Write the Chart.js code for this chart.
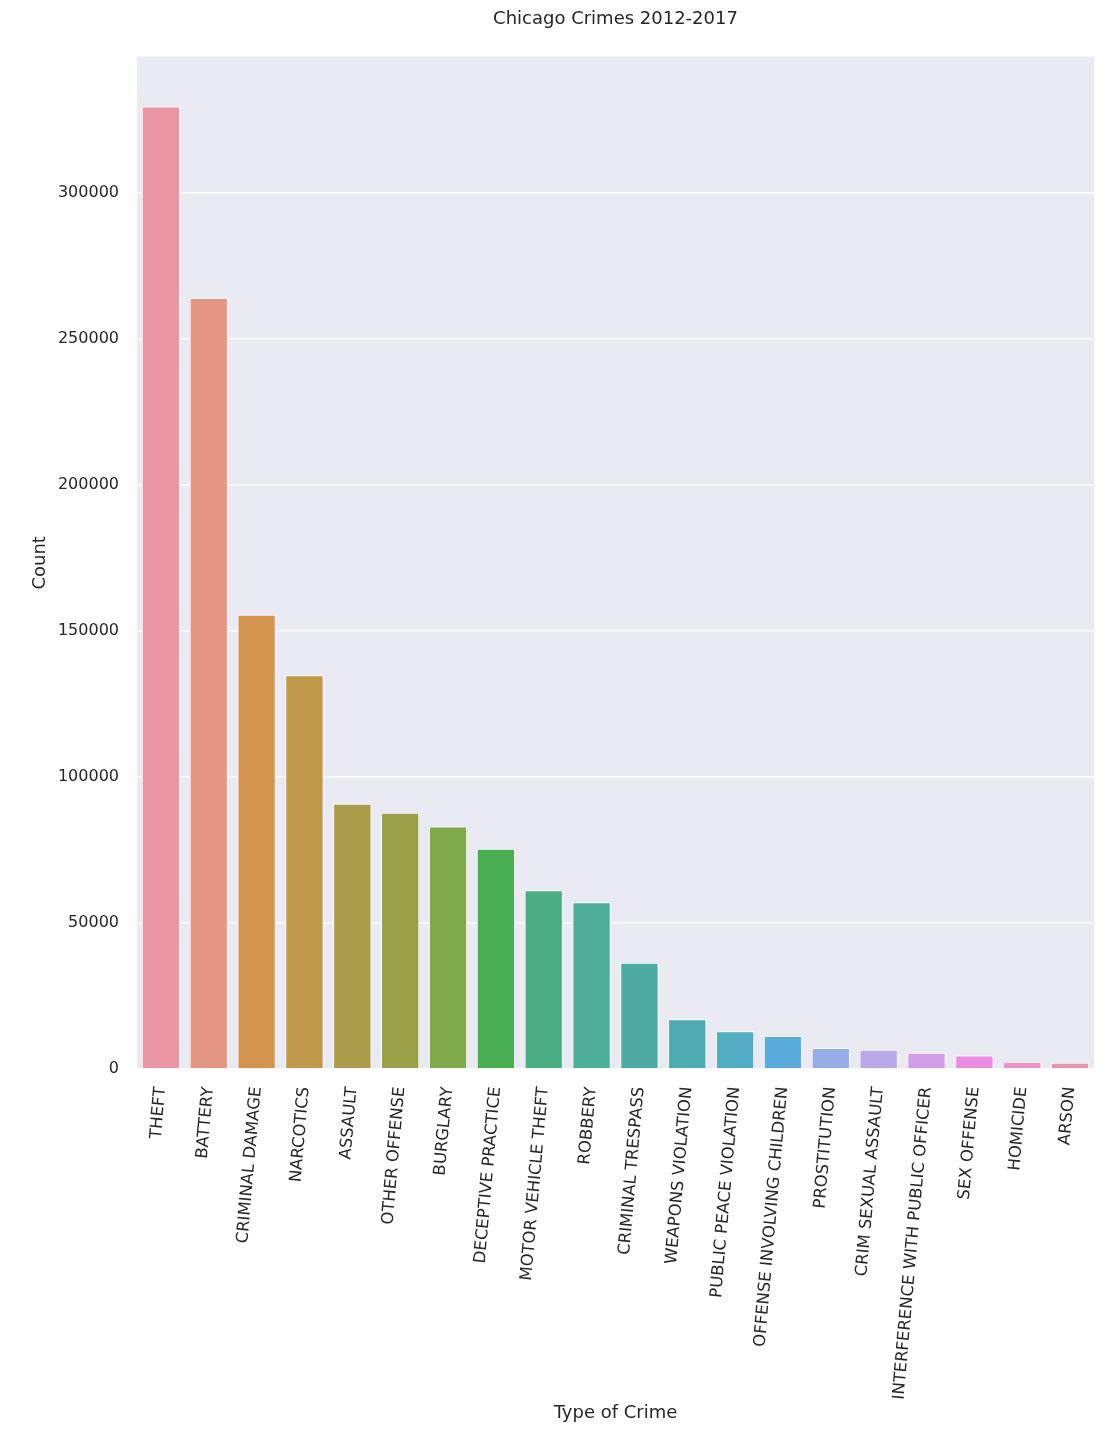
<!DOCTYPE html>
<html>
<head>
<meta charset="utf-8">
<script src="https://cdn.jsdelivr.net/npm/chart.js@4.4.1/dist/chart.umd.min.js"></script>
<style>
  html, body { margin: 0; padding: 0; background: #ffffff; }
  #wrap { width: 1116px; height: 1448px; position: relative; }
</style>
</head>
<body>
<div id="wrap"><canvas id="c" width="1116" height="1448"></canvas></div>
<script>
const categories = [
  "THEFT", "BATTERY", "CRIMINAL DAMAGE", "NARCOTICS", "ASSAULT",
  "OTHER OFFENSE", "BURGLARY", "DECEPTIVE PRACTICE", "MOTOR VEHICLE THEFT", "ROBBERY",
  "CRIMINAL TRESPASS", "WEAPONS VIOLATION", "PUBLIC PEACE VIOLATION", "OFFENSE INVOLVING CHILDREN", "PROSTITUTION",
  "CRIM SEXUAL ASSAULT", "INTERFERENCE WITH PUBLIC OFFICER", "SEX OFFENSE", "HOMICIDE", "ARSON"
];
const counts = [
  329400, 263900, 155500, 134800, 90800,
  87700, 83000, 75400, 61200, 57100,
  36400, 17000, 12900, 11300, 7200,
  6600, 5600, 4600, 2500, 2100
];
const barColors = [
  "#ea96a2", "#e59784", "#d6954f", "#bf9a4b", "#aa9c48",
  "#9aa147", "#80a94a", "#49af52", "#4bae84", "#4daf97",
  "#4eaba4", "#4eabb2", "#52acc4", "#59acdc", "#97aee8",
  "#b8a7e9", "#d09de6", "#e78be3", "#ea94c9", "#e995b1"
];
const yTicks = [0, 50000, 100000, 150000, 200000, 250000, 300000];
const yMax = 346500;

const FONT = "'DejaVu Sans', 'Liberation Sans', sans-serif";
const TEXT = "#262626";

const bgPlugin = {
  id: 'plotBg',
  beforeDraw(chart) {
    const {ctx, chartArea: a} = chart;
    ctx.save();
    ctx.fillStyle = '#eaeaf2';
    ctx.fillRect(a.left, a.top, a.right - a.left, a.bottom - a.top);
    ctx.restore();
  }
};

new Chart(document.getElementById('c'), {
  type: 'bar',
  data: {
    labels: categories,
    datasets: [{
      label: 'Count',
      data: counts,
      backgroundColor: barColors,
      borderColor: '#ffffff',
      borderWidth: 1,
      categoryPercentage: 1.0,
      barPercentage: 0.8
    }]
  },
  plugins: [bgPlugin],
  options: {
    responsive: false,
    animation: false,
    devicePixelRatio: 1,
    layout: { padding: { left: 0, right: 22, top: 0, bottom: 0 } },
    plugins: {
      legend: { display: false },
      tooltip: { enabled: false },
      title: {
        display: true,
        text: 'Chicago Crimes 2012-2017',
        fullSize: false,
        color: TEXT,
        font: { family: FONT, size: 18, weight: 'normal' },
        padding: { top: 9, bottom: 26 }
      }
    },
    scales: {
      x: {
        type: 'category',
        grid: { display: false, drawTicks: false },
        border: { display: false },
        ticks: {
          color: TEXT,
          font: { family: FONT, size: 16.5 },
          minRotation: 85,
          maxRotation: 85,
          padding: 17,
          autoSkip: false
        },
        title: {
          display: true,
          text: 'Type of Crime',
          color: TEXT,
          font: { family: FONT, size: 18 },
          padding: { top: 24, bottom: 24 }
        },
        afterFit(scale) { scale.height = 379; }
      },
      y: {
        min: 0,
        max: yMax,
        afterBuildTicks(scale) { scale.ticks = yTicks.map(v => ({ value: v })); },
        grid: { color: '#ffffff', lineWidth: 1.5, drawTicks: false },
        border: { display: false },
        ticks: {
          color: TEXT,
          font: { family: FONT, size: 16 },
          padding: 18,
          callback: (v) => String(v)
        },
        title: {
          display: true,
          text: 'Count',
          color: TEXT,
          font: { family: FONT, size: 18 },
          padding: { top: 30, bottom: 30 }
        },
        afterFit(scale) { scale.width = 137; }
      }
    }
  }
});
</script>
</body>
</html>
